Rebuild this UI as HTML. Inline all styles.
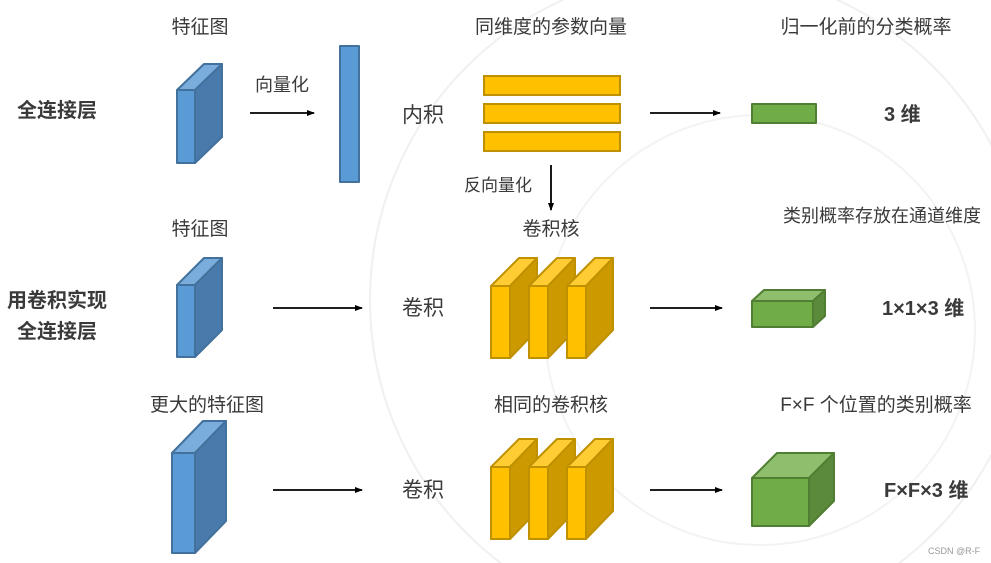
<!DOCTYPE html>
<html><head><meta charset="utf-8"><style>
html,body{margin:0;padding:0;background:#fff;width:991px;height:563px;overflow:hidden}
svg{display:block}
svg text{font-family:"Liberation Sans","Noto Sans CJK SC",sans-serif;fill:#3a3a3a}
.b{font-weight:bold}
</style></head><body>
<svg width="991" height="563" viewBox="0 0 991 563" xmlns="http://www.w3.org/2000/svg">
<defs><marker id="a" markerWidth="8" markerHeight="8" refX="7" refY="4" orient="auto" markerUnits="userSpaceOnUse"><path d="M0,1 L8,4 L0,7z" fill="#000"/></marker></defs>
<circle cx="700" cy="300" r="330" fill="none" stroke="#f0f0f0" stroke-width="2"/>
<circle cx="760" cy="330" r="215" fill="none" stroke="#f3f3f3" stroke-width="2"/>
<g font-size="19" text-anchor="middle">
<text x="200" y="33">特征图</text>
<text x="551" y="33">同维度的参数向量</text>
<text x="866" y="33">归一化前的分类概率</text>
<text x="200" y="235">特征图</text>
<text x="551" y="235">卷积核</text>
<text x="882" y="222" font-size="18">类别概率存放在通道维度</text>
<text x="207" y="411">更大的特征图</text>
<text x="551" y="411">相同的卷积核</text>
<text x="876" y="411">F×F 个位置的类别概率</text>
<text x="282" y="91" font-size="18">向量化</text>
<text x="498" y="191" font-size="17">反向量化</text>
<text x="423" y="122" font-size="21">内积</text>
<text x="423" y="315" font-size="21">卷积</text>
<text x="423" y="497" font-size="21">卷积</text>
<text x="57" y="117" class="b" font-size="20">全连接层</text>
<text x="57" y="307" class="b" font-size="20">用卷积实现</text>
<text x="57" y="338" class="b" font-size="20">全连接层</text>
</g>
<g font-size="20" class="b">
<text x="884" y="121" class="b">3 维</text>
<text x="882" y="315" class="b">1×1×3 维</text>
<text x="884" y="497" class="b">F×F×3 维</text>
</g>
<g stroke="#000" stroke-width="1.8" marker-end="url(#a)">
<line x1="250" y1="113" x2="314" y2="113"/>
<line x1="650" y1="113" x2="720" y2="113"/>
<line x1="551" y1="165" x2="551" y2="210"/>
<line x1="273" y1="308" x2="362" y2="308"/>
<line x1="650" y1="308" x2="722" y2="308"/>
<line x1="273" y1="490" x2="362" y2="490"/>
<line x1="650" y1="490" x2="722" y2="490"/>
</g>
<g stroke="#41719c" stroke-width="2" stroke-linejoin="round">
<path d="M177,90 L204,64 L222,64 L195,90z" fill="#7aacdc"/>
<path d="M195,90 L222,64 L222,137 L195,163z" fill="#4a7aab"/>
<rect x="177" y="90" width="18" height="73" fill="#5b9bd5"/>
<rect x="340" y="46" width="19" height="136" fill="#5b9bd5"/>
<path d="M177,285 L204,258 L222,258 L195,285z" fill="#7aacdc"/>
<path d="M195,285 L222,258 L222,330 L195,357z" fill="#4a7aab"/>
<rect x="177" y="285" width="18" height="72" fill="#5b9bd5"/>
<path d="M172,453 L203,421 L226,421 L195,453z" fill="#7aacdc"/>
<path d="M195,453 L226,421 L226,521 L195,553z" fill="#4a7aab"/>
<rect x="172" y="453" width="23" height="100" fill="#5b9bd5"/>
</g>
<g stroke="#bf9000" stroke-width="2" fill="#ffc000">
<rect x="484" y="76" width="136" height="19"/>
<rect x="484" y="104" width="136" height="19"/>
<rect x="484" y="132" width="136" height="19"/>
</g>
<g stroke="#bf9000" stroke-width="2" stroke-linejoin="round">
<g id="k">
<path d="M491,286 L519,258 L537,258 L510,286z" fill="#ffcd33"/>
<path d="M510,286 L537,258 L537,330 L510,358z" fill="#cc9a00"/>
<rect x="491" y="286" width="19" height="72" fill="#ffc000"/>
</g>
<use href="#k" x="38"/><use href="#k" x="76"/>
<use href="#k" y="181"/><use href="#k" x="38" y="181"/><use href="#k" x="76" y="181"/>
</g>
<g stroke="#507e32" stroke-width="2" stroke-linejoin="round">
<rect x="752" y="104" width="64" height="19" fill="#70ad47"/>
<path d="M752,301 L764,290 L825,290 L813,301z" fill="#8fbf6c"/>
<path d="M813,301 L825,290 L825,316 L813,327z" fill="#5a8a3a"/>
<rect x="752" y="301" width="61" height="26" fill="#70ad47"/>
<path d="M752,478 L777,453 L834,453 L809,478z" fill="#8fbf6c"/>
<path d="M809,478 L834,453 L834,501 L809,526z" fill="#5a8a3a"/>
<rect x="752" y="478" width="57" height="48" fill="#70ad47"/>
</g>
<text x="928" y="554" font-size="9" style="fill:#999">CSDN @R-F</text>
</svg>
</body></html>
